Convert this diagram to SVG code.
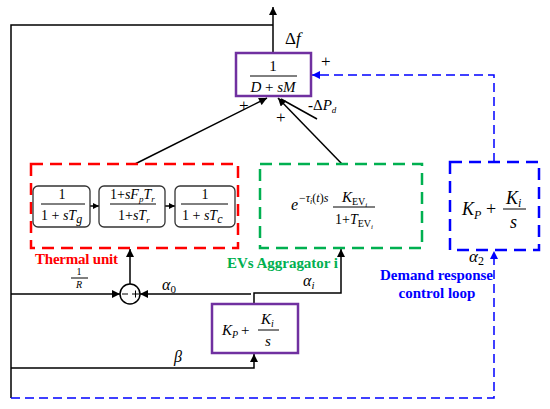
<svg xmlns="http://www.w3.org/2000/svg" width="550" height="409" viewBox="0 0 550 409">
<defs>
<marker id="ah" viewBox="0 0 10 10" refX="10" refY="5" markerWidth="9" markerHeight="8" markerUnits="userSpaceOnUse" orient="auto"><path d="M0,0 L10,5 L0,10 z" fill="#000"/></marker>
<marker id="ahb" viewBox="0 0 10 10" refX="10" refY="5" markerWidth="9" markerHeight="8" markerUnits="userSpaceOnUse" orient="auto"><path d="M0,0 L10,5 L0,10 z" fill="#0000ff"/></marker>
<marker id="ahs" viewBox="0 0 10 10" refX="10" refY="5" markerWidth="6" markerHeight="6" markerUnits="userSpaceOnUse" orient="auto"><path d="M0,0 L10,5 L0,10 z" fill="#000"/></marker>
<style>
.ln{stroke:#000;stroke-width:1.5;fill:none}
.bd{stroke:#0000ff;stroke-width:1.5;fill:none;stroke-dasharray:9 5}
.red{stroke:#ff0000;stroke-width:2.5;fill:none;stroke-dasharray:12 7}
.grn{stroke:#00b050;stroke-width:2.5;fill:none;stroke-dasharray:12 7}
.blu{stroke:#0000ff;stroke-width:2.5;fill:none;stroke-dasharray:12 7}
.pur{stroke:#7030a0;stroke-width:2.5;fill:#fff}
.ib{stroke:#333;stroke-width:1.3;fill:#fff}
.bar{stroke:#000;stroke-width:1}
text{font-family:"Liberation Serif",serif;fill:#000}
.m{font-style:italic}
.lab{font-weight:bold}
</style>
</defs>
<g id="connectors">
<polyline class="ln" points="273,53 273,7" marker-end="url(#ah)"/>
<polyline class="ln" points="273,25 11,25 11,398"/>
<line class="ln" x1="135" y1="164" x2="267" y2="98" marker-end="url(#ah)"/>
<line class="ln" x1="342" y1="164" x2="278" y2="98" marker-end="url(#ah)"/>
<line class="ln" x1="317" y1="119" x2="281" y2="99"/>
<polyline class="bd" points="494,162 494,75 312,75" marker-end="url(#ahb)"/>
<line class="ln" x1="90" y1="206" x2="99" y2="206" marker-end="url(#ahs)"/>
<line class="ln" x1="165" y1="206" x2="175" y2="206" marker-end="url(#ahs)"/>
<line class="ln" x1="130" y1="284" x2="130" y2="249" marker-end="url(#ah)"/>
<line class="ln" x1="11" y1="294" x2="120" y2="294" marker-end="url(#ah)"/>
<line class="ln" x1="251" y1="294" x2="140" y2="294" marker-end="url(#ah)"/>
<polyline class="ln" points="254,304 254,293 341,293 341,249" marker-end="url(#ah)"/>
<polyline class="ln" points="11,368 254,368 254,354" marker-end="url(#ah)"/>
<polyline class="bd" points="11,398 494,398 494,251" marker-end="url(#ahb)"/>
</g>
<g id="plant">
<rect class="pur" x="236" y="53" width="75" height="43"/>
<text x="273" y="71" text-anchor="middle" style="font-size:15px">1</text>
<line class="bar" x1="250" y1="76" x2="297" y2="76"/>
<text class="m" x="273" y="92" text-anchor="middle" style="font-size:15px">D <tspan font-style="normal">+</tspan> sM</text>
</g>
<g id="labels-top">
<text x="285" y="44" style="font-size:17px">Δ<tspan font-style="italic">f</tspan></text>
<text x="321" y="67" style="font-size:17px">+</text>
<text x="239" y="111" style="font-size:17px">+</text>
<text x="276" y="123" style="font-size:17px">+</text>
<text x="308" y="110" style="font-size:15px"><tspan font-weight="bold">-</tspan>Δ<tspan font-style="italic">P</tspan><tspan font-style="italic" font-size="9" dy="3">d</tspan></text>
</g>
<g id="thermal-unit">
<rect class="red" x="31" y="164" width="207" height="84"/>
<rect class="ib" x="33" y="186" width="57" height="41" rx="5"/>
<text x="62" y="199" text-anchor="middle" style="font-size:14px">1</text>
<line class="bar" x1="41" y1="204" x2="85" y2="204"/>
<text x="41" y="220" style="font-size:14px">1 + <tspan font-style="italic">sT</tspan><tspan font-style="italic" font-size="12" dy="3">g</tspan></text>
<rect class="ib" x="99" y="186" width="66" height="41" rx="5"/>
<text x="110" y="199" style="font-size:14px">1+<tspan font-style="italic">sF</tspan><tspan font-style="italic" font-size="9" dy="3">p</tspan><tspan font-style="italic" dy="-3">T</tspan><tspan font-style="italic" font-size="9" dy="3">r</tspan></text>
<line class="bar" x1="110" y1="204" x2="156" y2="204"/>
<text x="118" y="220" style="font-size:14px">1+<tspan font-style="italic">sT</tspan><tspan font-style="italic" font-size="9" dy="3">r</tspan></text>
<rect class="ib" x="175" y="186" width="60" height="41" rx="5"/>
<text x="205" y="199" text-anchor="middle" style="font-size:14px">1</text>
<line class="bar" x1="181" y1="204" x2="228" y2="204"/>
<text x="182" y="220" style="font-size:14px">1 + <tspan font-style="italic">sT</tspan><tspan font-style="italic" font-size="12" dy="3">c</tspan></text>
<text class="lab" x="35" y="264" style="font-size:15px;fill:#ff0000" textLength="83">Thermal unit</text>
</g>
<g id="ev-aggregator">
<rect class="grn" x="260" y="164" width="162" height="84"/>
<text class="m" x="291" y="210" style="font-size:16px">e</text>
<text x="299" y="202" style="font-size:12px">−<tspan font-style="italic">τ</tspan><tspan font-style="italic" font-size="8" dy="2">i</tspan><tspan dy="-2">(</tspan><tspan font-style="italic">t</tspan>)<tspan font-style="italic">s</tspan></text>
<text class="m" x="342" y="202" style="font-size:15px">K<tspan font-style="normal" font-size="10" dy="3">EV</tspan><tspan font-size="7" dy="2">i</tspan></text>
<line class="bar" x1="333" y1="207" x2="375" y2="207"/>
<text x="335" y="224" style="font-size:14px">1+<tspan font-style="italic">T</tspan><tspan font-size="10" dy="3">EV</tspan><tspan font-style="italic" font-size="7" dy="2">i</tspan></text>
<text class="lab" x="227" y="268" style="font-size:15px;fill:#00b050" textLength="111">EVs Aggragator i</text>
</g>
<g id="demand-response">
<rect class="blu" x="450" y="162" width="89" height="88"/>
<text class="m" x="462" y="215" style="font-size:18px">K<tspan font-size="12" dy="4">P</tspan></text>
<text x="486" y="215" style="font-size:18px">+</text>
<text class="m" x="506" y="204" style="font-size:18px">K<tspan font-size="12" dy="3">i</tspan></text>
<line class="bar" x1="503" y1="209" x2="526" y2="209"/>
<text class="m" x="510" y="228" style="font-size:18px">s</text>
<text class="m" x="469" y="262" style="font-size:17px">α<tspan font-style="normal" font-size="12" dy="3">2</tspan></text>
<text class="lab" x="380" y="280" style="font-size:15px;fill:#0000ff" textLength="113">Demand response</text>
<text class="lab" x="437" y="298" text-anchor="middle" style="font-size:15px;fill:#0000ff">control loop</text>
</g>
<g id="summing-junction">
<circle cx="130" cy="294" r="10" fill="#fff" stroke="#000" stroke-width="1.5"/>
<line class="bar" x1="122" y1="294" x2="128" y2="294" stroke-width="1.3"/>
<line class="bar" x1="132" y1="294" x2="139" y2="294" stroke-width="1.3"/>
<line class="bar" x1="135.5" y1="290.5" x2="135.5" y2="297.5" stroke-width="1.3"/>
<text x="79" y="275" text-anchor="middle" style="font-size:10px">1</text>
<line class="bar" x1="71" y1="278" x2="88" y2="278" stroke-width="0.8"/>
<text class="m" x="79" y="288" text-anchor="middle" style="font-size:10px">R</text>
<text class="m" x="162" y="290" style="font-size:16px">α<tspan font-style="normal" font-size="11" dy="3">0</tspan></text>
<text class="m" x="303" y="286" style="font-size:16px">α<tspan font-size="11" dy="3">i</tspan></text>
<text class="m" x="174" y="362" style="font-size:16px">β</text>
</g>
<g id="pi-controller">
<rect class="pur" x="212" y="304" width="86" height="49"/>
<text class="m" x="222" y="335" style="font-size:15px">K<tspan font-size="10" dy="3">P</tspan></text>
<text x="241" y="335" style="font-size:15px">+</text>
<text class="m" x="261" y="324" style="font-size:15px">K<tspan font-size="10" dy="3">i</tspan></text>
<line class="bar" x1="258" y1="330" x2="279" y2="330"/>
<text class="m" x="265" y="346" style="font-size:15px">s</text>
</g>
</svg>
